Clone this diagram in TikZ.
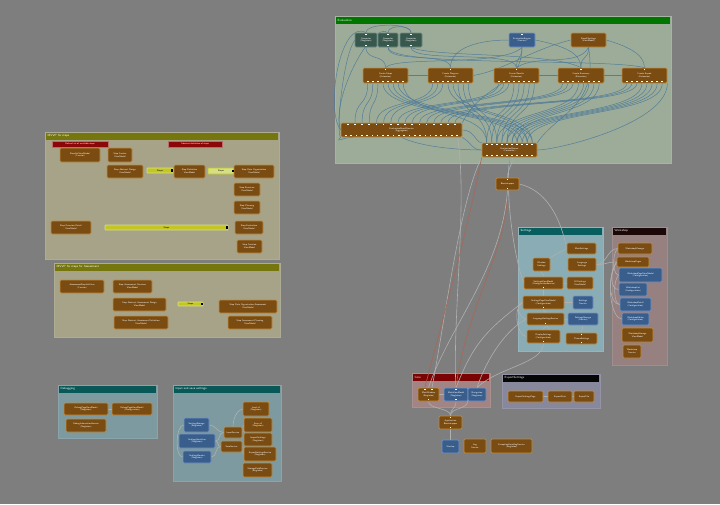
\documentclass[tikz,border=0pt]{standalone}
\usetikzlibrary{calc}
\definecolor{bgc}{RGB}{126,126,126}
\definecolor{evalf}{RGB}{156,172,152}
\definecolor{evalh}{RGB}{0,118,0}
\definecolor{mvvpf}{RGB}{166,163,136}
\definecolor{mvvph}{RGB}{118,118,14}
\definecolor{dbgf}{RGB}{124,154,160}
\definecolor{dbgh}{RGB}{8,88,88}
\definecolor{setf}{RGB}{138,172,180}
\definecolor{seth}{RGB}{8,94,94}
\definecolor{wsf}{RGB}{150,128,128}
\definecolor{wsh}{RGB}{28,8,8}
\definecolor{coref}{RGB}{162,132,132}
\definecolor{coreh}{RGB}{122,4,4}
\definecolor{expf}{RGB}{136,136,156}
\definecolor{exph}{RGB}{6,6,6}
\definecolor{nbrown}{RGB}{122,76,18}
\definecolor{nbrownb}{RGB}{190,140,66}
\definecolor{nblue}{RGB}{58,94,140}
\definecolor{nblueb}{RGB}{116,146,196}
\definecolor{ngreen}{RGB}{56,88,78}
\definecolor{ngreenb}{RGB}{108,138,128}
\definecolor{wireblue}{RGB}{72,118,152}
\definecolor{wiregray}{RGB}{176,176,176}
\definecolor{wirered}{RGB}{168,104,84}
\definecolor{ybar}{RGB}{196,198,36}
\definecolor{ybarl}{RGB}{214,224,130}
\definecolor{rlab}{RGB}{140,8,8}
\pgfdeclarelayer{back}
\pgfdeclarelayer{grp}
\pgfdeclarelayer{wires}
\pgfsetlayers{back,grp,wires,main}
\tikzset{
  nd/.style={rectangle, rounded corners=1.2pt, line width=0.7pt, inner sep=0pt, text=white, align=center, font=\sffamily\fontsize{2.3}{2.8}\selectfont},
  brn/.style={nd, fill=nbrown, draw=nbrownb},
  blu/.style={nd, fill=nblue, draw=nblueb},
  grn/.style={nd, fill=ngreen, draw=ngreenb},
  ybox/.style={nd, rounded corners=0.5pt, fill=ybar, draw=ybarl, text=black},
  ylbox/.style={nd, rounded corners=0.5pt, fill=ybarl, draw=ybar, text=black},
  redlab/.style={nd, rounded corners=0pt, fill=rlab, draw=rlab!60!white, line width=0.4pt},
  wire/.style={draw=wireblue, line width=0.5pt, opacity=0.85},
  gwire/.style={draw=wiregray, line width=0.6pt},
  rwire/.style={draw=wirered, line width=0.6pt},
  ttl/.style={anchor=west, text=white, inner sep=0pt, font=\sffamily\fontsize{3}{3.6}\selectfont},
}
\newcommand\nbox[7]{%
  \pgfmathsetmacro\nbw{#4-#2}\pgfmathsetmacro\nbh{#5-#3}%
  \pgfmathsetmacro\nbx{(#2+#4)/2}\pgfmathsetmacro\nby{(#3+#5)/2}%
  \node[#1, minimum width=\nbw pt, minimum height=\nbh pt] (#6) at (\nbx,\nby) {#7};}
\newcommand\grp[8]{%
  \fill[#1, draw=#1!90!white, line width=0.4pt] (#3,#4) rectangle (#5,#6);
  \fill[#2] (#3+1,#4+1) rectangle (#5-1,#4+7.5);
  \node[ttl] (#8) at (#3+2.5,#4+4.2) {#7};}
\newcommand\botports[2]{%
  \foreach \i in {1,...,#2}{\pgfmathsetmacro\fr{\i/(#2+1)}%
    \fill[white] ($(#1.south west)!\fr!(#1.south east)$) ++(-0.8,-2.8) rectangle ++(1.6,1.6);}}
\newcommand\topports[2]{%
  \foreach \i in {1,...,#2}{\pgfmathsetmacro\fr{\i/(#2+1)}%
    \fill[white] ($(#1.north west)!\fr!(#1.north east)$) ++(-0.8,1.2) rectangle ++(1.6,1.6);}}
\begin{document}
\begin{tikzpicture}[x=1pt,y=-1pt]
\useasboundingbox (0,0) rectangle (720,504);
\begin{pgfonlayer}{back}
\fill[bgc] (0,0) rectangle (720,504);
\end{pgfonlayer}

\begin{pgfonlayer}{grp}
\grp{evalf}{evalh}{335}{16}{671}{163}{Evaluation}{tEval}
\grp{mvvpf}{mvvph}{45}{132}{279}{259}{MVVP for steps}{tMvvp}
\grp{mvvpf}{mvvph}{54}{263}{280}{337}{MVVP for steps for Assessment}{tAss}
\grp{dbgf}{dbgh}{58}{385}{157}{438}{Debugging}{tDbg}
\grp{dbgf}{dbgh}{173}{385}{281}{481}{Input and save settings}{tInp}
\grp{setf}{seth}{518}{227}{603}{351}{Settings}{tSet}
\grp{wsf}{wsh}{612}{227}{667}{365}{Workshop}{tWs}
\grp{coref}{coreh}{412}{373}{490}{407}{Core}{tCore}
\grp{expf}{exph}{502}{374}{600}{408}{ExportSettings}{tExp}
\end{pgfonlayer}

% ---------------- Evaluation
\nbox{grn}{355}{33}{377}{47}{g1}{Converter\\(Singleton)}
\nbox{grn}{378}{33}{398}{47}{g2}{Converter\\(Singleton)}
\nbox{grn}{400}{33}{422}{47}{g3}{Converter\\(Singleton)}
\nbox{blu}{509}{33}{535}{47}{bl}{EvaluationEngine\\(Service)}
\nbox{brn}{571}{33}{606}{47}{or1}{ResultSettings\\(ViewModel)}
\nbox{brn}{363}{68}{408}{83}{r1}{Create Steps\\(Extension)}
\nbox{brn}{428}{68}{473}{83}{r2}{Create Diagram\\(Extension)}
\nbox{brn}{494}{68}{539}{83}{r3}{Create Results\\(Extension)}
\nbox{brn}{558}{68}{604}{83}{r4}{Create Summary\\(Extension)}
\nbox{brn}{622}{68}{667}{83}{r5}{Create Export\\(Extension)}
\nbox{brn}{341}{123}{462}{137}{big}{EvaluationResultService\\(Aggregator)}
\nbox{brn}{482}{143}{537}{157}{low}{EvaluationRunner\\(Controller)}
\nbox{brn}{496}{178}{519}{190}{boot}{Bootstrapper}
\foreach \n in {g1,g2,g3,bl,r1,r2,r3,r4,r5}{\topports{\n}{1}}
\foreach \n in {g1,g2,g3}{\botports{\n}{1}}
\foreach \n in {r1,r2,r3,r4,r5}{\botports{\n}{8}}
\topports{big}{16}\botports{big}{22}
\topports{low}{10}\botports{low}{10}
\topports{boot}{1}\botports{boot}{1}

% ---------------- MVVP for steps
\nbox{redlab}{52}{141}{108}{147}{rl1}{Define List of available steps}
\nbox{redlab}{168}{141}{222}{147}{rl2}{Abstract definition of steps}
\nbox{brn}{60}{148}{100}{162}{m1}{StepListViewModel\\(Creator)}
\nbox{brn}{108}{148}{132}{162}{m2}{Step Creator\\ViewModel}
\nbox{brn}{107}{165}{143}{178}{m3}{Step Abstract Design\\ViewModel}
\nbox{ybox}{147}{168}{173}{173}{yb1}{Steps}
\nbox{brn}{174}{165}{205}{178}{m4}{Step Definition\\ViewModel}
\nbox{ylbox}{208}{168}{234}{174}{yb2}{Steps}
\nbox{brn}{234}{165}{274}{178}{m5}{Step Data Organization\\ViewModel}
\nbox{brn}{234}{183}{260}{196}{m6}{Step Structure\\ViewModel}
\nbox{brn}{234}{201}{260}{214}{m7}{Step Planning\\ViewModel}
\nbox{brn}{51}{221}{91}{234}{m8}{Step Overview Detail\\ViewModel}
\nbox{ybox}{105}{225}{228}{230}{yb3}{Steps}
\nbox{brn}{235}{221}{263}{234}{m9}{Step Evaluation\\ViewModel}
\nbox{brn}{237}{240}{262}{253}{m10}{Step Creation\\ViewModel}
\foreach \n in {yb1,yb2,yb3}{\fill[black] ($(\n.east)+(-2.6,-1.4)$) rectangle ++(2.2,2.8);}

% ---------------- Assessment
\nbox{brn}{60}{280}{104}{293}{a1}{AssessmentStepListView\\(Creator)}
\nbox{brn}{113}{280}{152}{293}{a2}{Step Assessment Overview\\ViewModel}
\nbox{brn}{113}{298}{166}{311}{a3}{Step Abstract Assessment Design\\ViewModel}
\nbox{brn}{114}{316}{168}{329}{a4}{Step Abstract Assessment Definition\\ViewModel}
\nbox{ybox}{178}{302}{203}{306}{yb4}{Steps}
\fill[black] ($(yb4.east)+(-2.6,-1.4)$) rectangle ++(2.2,2.8);
\nbox{brn}{219}{300}{277}{313}{a5}{Step Data Organization Assessment\\ViewModel}
\nbox{brn}{228}{316}{272}{329}{a6}{Step Assessment Planning\\ViewModel}

% ---------------- Debugging
\nbox{brn}{64}{403}{108}{415}{d1}{DebugPageViewModel\\(Singleton)}
\nbox{brn}{112}{403}{152}{415}{d2}{DebugPageViewModel\\(Configuration)}
\nbox{brn}{66}{419}{106}{432}{d3}{DebugInformationService\\(Singleton)}

% ---------------- Input and save
\nbox{blu}{184}{418}{209}{432}{i1}{SettingsStorage\\(Singleton)}
\nbox{blu}{179}{434}{215}{448}{i2}{SettingsSerializer\\(Singleton)}
\nbox{blu}{183}{451}{211}{463}{i3}{SettingsReader\\(Singleton)}
\nbox{brn}{224}{427}{242}{438}{i4}{InputService}
\nbox{brn}{221}{441}{242}{452}{i5}{SaveService}
\nbox{brn}{243}{402}{269}{416}{i6}{Load all\\(Singleton)}
\nbox{brn}{244}{418}{272}{432}{i7}{Save all\\(Singleton)}
\nbox{brn}{244}{433}{272}{446}{i8}{ImportSettings\\(Singleton)}
\nbox{brn}{244}{447}{276}{461}{i9}{ExportSettingsService\\(Singleton)}
\nbox{brn}{243}{463}{272}{477}{i10}{StoragePathService\\(Singleton)}

% ---------------- Settings
\nbox{brn}{567}{243}{596}{254}{s1}{MainSettings}
\nbox{brn}{533}{258}{550}{271}{s2}{Window\\Settings}
\nbox{brn}{568}{258}{596}{271}{s3}{Language\\Settings}
\nbox{brn}{524}{277}{563}{289}{s4}{SettingsViewModel\\(ConfigurationService)}
\nbox{brn}{567}{277}{593}{289}{s5}{UI Settings\\ViewModel}
\nbox{brn}{523}{296}{564}{309}{s6}{SettingsPageViewModel\\(Configuration)}
\nbox{blu}{573}{296}{593}{309}{s7}{Settings\\Service}
\nbox{blu}{568}{313}{598}{325}{s9}{SettingsStorage\\(Service)}
\nbox{brn}{527}{313}{564}{325}{s8}{LanguageSettingsService}
\nbox{brn}{527}{330}{560}{343}{s10}{DisplaySettings\\(Configuration)}
\nbox{brn}{566}{333}{597}{344}{s11}{ThemeSettings}
\foreach \n in {s4,s6,s8,s10,s11}{\botports{\n}{1}}
\topports{s11}{1}

% ---------------- Workshop
\nbox{brn}{618}{243}{652}{254}{w1}{WorkshopManager}
\nbox{brn}{617}{257}{649}{267}{w2}{WorkshopPages}
\nbox{blu}{619}{268}{662}{282}{w3}{WorkshopPageViewModel\\(Configuration)}
\nbox{blu}{619}{283}{647}{296}{w4}{WorkshopList\\(Configuration)}
\nbox{blu}{620}{298}{651}{311}{w5}{WorkshopDetail\\(Configuration)}
\nbox{blu}{622}{313}{649}{325}{w6}{WorkshopEditor\\(Configuration)}
\nbox{brn}{622}{328}{653}{342}{w7}{WorkshopStorage\\ViewModel}
\nbox{brn}{623}{345}{641}{358}{w8}{Workshop\\Service}

% ---------------- Core
\nbox{brn}{418}{388}{439}{401}{c1}{MainWindow\\(Singleton)}
\nbox{blu}{444}{388}{468}{401}{c2}{MainViewModel\\(Singleton)}
\nbox{blu}{468}{388}{486}{401}{c3}{Navigation\\(Singleton)}
\topports{c1}{2}\botports{c1}{1}\topports{c2}{1}\botports{c2}{1}
\nbox{brn}{439}{416}{462}{429}{c4}{Application\\Bootstrapper}
\topports{c4}{1}\botports{c4}{1}
\nbox{blu}{442}{440}{459}{453}{c5}{Startup}
\nbox{brn}{464}{439}{486}{453}{c6}{Log\\Service}
\nbox{brn}{491}{439}{532}{453}{c7}{ExceptionHandlingService\\(Singleton)}

% ---------------- ExportSettings
\nbox{brn}{508}{391}{543}{402}{e1}{ExportSettingsPage}
\nbox{brn}{548}{391}{572}{402}{e2}{ExportData}
\nbox{brn}{574}{391}{594}{402}{e3}{ExportFile}

% ================= wires
\begin{pgfonlayer}{wires}
\foreach \k/\nm in {1/r1,2/r2,3/r3,4/r4,5/r5}{
  \foreach \i in {1,...,3}{
    \pgfmathsetmacro\fa{\i/9}
    \pgfmathtruncatemacro\j{mod((\k-1)*3+\i,16)+1}
    \pgfmathsetmacro\fb{\j/17}
    \draw[wire] ($(\nm.south west)!\fa!(\nm.south east)$) .. controls +(0,24) and +(0,-24) .. ($(big.north west)!\fb!(big.north east)$);
  }
  \foreach \i in {4,...,8}{
    \pgfmathsetmacro\fa{\i/9}
    \pgfmathtruncatemacro\j{mod(\k*2+\i,10)+1}
    \pgfmathsetmacro\fb{\j/11}
    \draw[wire] ($(\nm.south west)!\fa!(\nm.south east)$) .. controls +(0,34) and +(0,-34) .. ($(low.north west)!\fb!(low.north east)$);
  }
}
\draw[wire] (g1.north) .. controls +(0,-10) and +(0,-10) .. (g3.north);
\draw[wire] (g2.north) .. controls +(0,-8) and +(0,-8) .. (g3.north);
\draw[wire] (g1.north) .. controls (340,18) and (325,110) .. (big.west);
\draw[wire] (g1.west) .. controls (342,60) and (336,135) .. (big.south west);
\draw[wire] (g2.north) .. controls (372,20) and (330,100) .. (big.west);
\draw[wire] (g1.south) .. controls +(0,14) and +(0,-14) .. (r1.north);
\draw[wire] (g2.south) .. controls +(0,16) and +(0,-16) .. (r2.north);
\draw[wire] (g3.south) .. controls +(0,16) and +(0,-18) .. (r3.north);
\draw[wire] (g3.south) .. controls +(20,10) and +(-30,-16) .. (r4.north);
\draw[wire] (g2.south) .. controls +(0,20) and +(-40,-10) .. (r5.north);
\draw[wire] (bl.south) .. controls +(0,12) and +(0,-12) .. (r3.north);
\draw[wire] (bl.west) .. controls +(-30,0) and +(0,-20) .. (r2.north);
\draw[wire] (bl.south) .. controls +(-20,20) and +(10,-12) .. (r1.north);
\draw[wire] (bl.east) .. controls +(30,6) and +(0,-14) .. (r4.north);
\draw[wire] (or1.south) .. controls +(0,14) and +(0,-14) .. (r4.north);
\draw[wire] (or1.south) .. controls +(-10,20) and +(20,-14) .. (r3.north);
\draw[wire] (or1.east) .. controls +(20,6) and +(0,-14) .. (r5.north);
\draw[wire] (or1.west) .. controls +(-40,10) and +(30,-5) .. (r2.east);
\draw[wire] (bl.south) .. controls +(0,40) and +(20,-40) .. (big.north east);
\draw[wire] (or1.south) .. controls +(10,60) and +(20,-30) .. (low.north east);
\draw[wire] (r1.east) .. controls +(10,0) and +(-10,0) .. (r2.west);
\draw[wire] (r4.east) .. controls +(10,0) and +(-10,0) .. (r5.west);
\draw[wire] (r3.east) .. controls +(10,0) and +(-10,0) .. (r4.west);
\draw[wire] (big.south west) .. controls +(-6,6) and +(-10,0) .. ($(big.south west)!0.1!(big.south east)$);
\draw[wire] (big.south) .. controls +(20,10) and +(-20,0) .. (low.west);
\draw[wire] (big.south east) .. controls +(10,6) and +(-10,0) .. (low.west);
\draw[wire] (big.east) .. controls +(12,0) and +(-6,0) .. (low.north west);
\draw[wire] (r5.south east) .. controls +(0,40) and +(20,0) .. (low.east);
\draw[wire] ($(low.south west)!0.5!(low.south east)$) .. controls +(0,10) and +(0,-10) .. (boot.north);
\draw[gwire] ($(low.south west)!0.55!(low.south east)$) .. controls +(0,10) and +(0,-10) .. (boot.north);
\draw[gwire] ($(big.south west)!0.96!(big.south east)$) .. controls (468,200) and (452,320) .. (c2.north);
\draw[gwire] (low.south west) .. controls (460,200) and (445,320) .. ($(c1.north west)!0.66!(c1.north east)$);
\draw[rwire] (low.south west) .. controls (470,220) and (440,330) .. ($(c1.north west)!0.33!(c1.north east)$);
\draw[rwire] (boot.south) .. controls +(0,60) and +(10,-80) .. (c2.north);
\draw[gwire] (boot.south) .. controls +(-6,80) and +(20,-60) .. (c1.north);
\draw[gwire] (boot.east) .. controls (545,190) and (560,215) .. (s1.west);
\draw[gwire] (low.south) .. controls (505,200) and (515,260) .. (s4.west);
\draw[gwire] (s10.south) .. controls +(0,20) and +(20,-20) .. (c3.north);
\draw[gwire] (s8.west) .. controls +(-20,10) and +(10,-30) .. (c3.north);
\draw[gwire] (s6.west) .. controls +(-40,30) and +(16,-40) .. (c2.north);
\draw[gwire] (s4.south) .. controls +(0,4) and +(0,-4) .. (s6.north);
\draw[gwire] (s6.west) .. controls +(-8,0) and +(-8,0) .. (s8.west);
\draw[gwire] (s6.west) .. controls +(-10,4) and +(-10,0) .. (s10.west);
\draw[gwire] (s6.south) .. controls +(0,5) and +(0,-5) .. (s8.north);
\draw[gwire] (s8.south) .. controls +(0,4) and +(0,-4) .. (s10.north);
\draw[gwire] (s8.south) .. controls +(6,4) and +(-4,-4) .. ($(s10.north)+(6,0)$);
\draw[gwire] (s7.west) .. controls +(-4,0) and +(4,0) .. (s6.east);
\draw[gwire] (s9.west) .. controls +(-4,0) and +(4,0) .. (s8.east);
\draw[gwire] (s9.south) .. controls +(0,4) and +(0,-4) .. (s11.north);
\draw[gwire] (s5.west) .. controls +(-4,0) and +(4,0) .. (s4.east);
\draw[gwire] (s2.south) .. controls +(0,4) and +(0,-4) .. (s4.north);
\draw[gwire] (s3.east) .. controls +(10,0) and +(-10,0) .. (w1.west);
\draw[gwire] (s3.east) .. controls +(10,0) and +(-10,0) .. (w2.west);
\draw[gwire] (s1.west) .. controls +(-6,4) and +(6,-4) .. (s2.north east);
\draw[gwire] (w1.west) .. controls +(-6,6) and +(-6,0) .. (w3.west);
\draw[gwire] (w2.west) .. controls +(-8,10) and +(-8,0) .. (w4.west);
\draw[gwire] (w2.west) .. controls +(-10,16) and +(-10,0) .. (w5.west);
\draw[gwire] (w2.west) .. controls +(-12,20) and +(-10,0) .. (w6.west);
\draw[gwire] (w3.west) .. controls +(-6,6) and +(-6,0) .. (w5.west);
\draw[gwire] (c1.south) .. controls +(0,8) and +(0,-8) .. (c4.north);
\draw[gwire] (c2.south) .. controls +(0,8) and +(0,-8) .. (c4.north);
\draw[gwire] (c3.south west) .. controls +(0,8) and +(0,-8) .. (c4.north);
\draw[gwire] (c1.east) .. controls +(3,0) and +(-3,0) .. (c2.west);
\draw[gwire] (c4.south) .. controls +(0,6) and +(0,-6) .. (c5.north);
\draw[gwire] (e1.east) -- (e2.west);
\draw[gwire] (e2.east) -- (e3.west);
\draw[gwire] (d1.east) -- (d2.west);
\draw[gwire] (i4.west) .. controls +(-6,0) and +(6,0) .. (i1.east);
\draw[gwire] (i4.west) .. controls +(-6,0) and +(6,0) .. (i2.east);
\draw[gwire] (i5.west) .. controls +(-4,0) and +(4,0) .. (i2.east);
\draw[gwire] (i5.west) .. controls +(-6,0) and +(6,0) .. (i3.east);
\draw[gwire] (i1.west) .. controls +(-8,0) and +(-8,0) .. (i3.west);
\draw[gwire] (i4.north) .. controls +(0,-10) and +(-4,0) .. (i6.west);
\draw[gwire] (i4.east) .. controls +(2,0) and +(-2,0) .. (i7.west);
\draw[gwire] (i5.east) .. controls +(2,0) and +(-2,0) .. (i9.west);
\end{pgfonlayer}
\end{tikzpicture}
\end{document}
